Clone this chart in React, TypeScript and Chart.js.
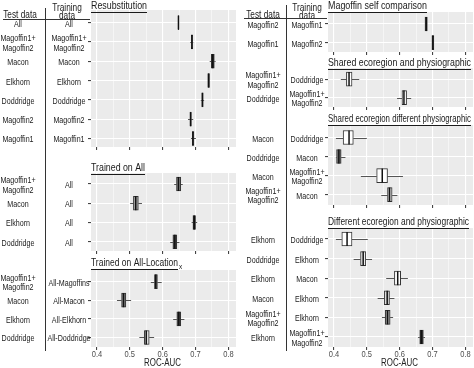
import React, { useEffect, useRef } from 'react';
import { Chart, registerables } from 'chart.js';
Chart.register(...registerables);

const FONT = "'Liberation Sans', Arial, sans-serif";
const SX = 0.79; // horizontal condensing of text to mimic the narrow humanist font

const xTicks = [0.4, 0.45, 0.5, 0.55, 0.6, 0.65, 0.7, 0.75, 0.8];
const axisTitle = 'ROC-AUC';

// Resubstitution
const resubTest = ['All', 'Magoffin1+\nMagoffin2', 'Macon', 'Elkhorn', 'Doddridge', 'Magoffin2', 'Magoffin1'];
const resubTrain = ['All', 'Magoffin1+\nMagoffin2', 'Macon', 'Elkhorn', 'Doddridge', 'Magoffin2', 'Magoffin1'];
const resubMin = [0.647, 0.684, 0.743, 0.737, 0.716, 0.677, 0.686];
const resubQ1 = [0.6475, 0.687, 0.748, 0.737, 0.719, 0.683, 0.690];
const resubMed = [0.648, 0.689, 0.752, 0.740, 0.721, 0.685, 0.692];
const resubQ3 = [0.6485, 0.691, 0.757, 0.742, 0.723, 0.687, 0.695];
const resubMax = [0.649, 0.693, 0.761, 0.742, 0.726, 0.693, 0.701];
const resubFill = ['#333333', '#444444', '#333333', '#555555', '#555555', '#333333', '#222222'];

// Trained on All
const allTest = ['Magoffin1+\nMagoffin2', 'Macon', 'Elkhorn', 'Doddridge'];
const allTrain = ['All', 'All', 'All', 'All'];
const allMin = [0.635, 0.501, 0.688, 0.623];
const allQ1 = [0.642, 0.511, 0.692, 0.631];
const allMed = [0.648, 0.518, 0.696, 0.637];
const allQ3 = [0.655, 0.526, 0.700, 0.643];
const allMax = [0.661, 0.537, 0.705, 0.651];
const allFill = ['#888888', '#a5a5a5', '#333333', '#555555'];

// Trained on All-Location
const locTest = ['Magoffin1+\nMagoffin2', 'Macon', 'Elkhorn', 'Doddridge'];
const locTrain = ['All-Magoffins', 'All-Macon', 'All-Elkhorn', 'All-Doddridge'];
const locMin = [0.564, 0.461, 0.632, 0.529];
const locQ1 = [0.575, 0.475, 0.643, 0.544];
const locMed = [0.579, 0.481, 0.649, 0.550];
const locQ3 = [0.584, 0.488, 0.655, 0.559];
const locMax = [0.597, 0.504, 0.666, 0.574];
const locFill = ['#777777', '#888888', '#555555', '#dddddd'];

// Magoffin self comparison
const selfTest = ['Magoffin2', 'Magoffin1'];
const selfTrain = ['Magoffin1', 'Magoffin2'];
const selfMin = [0.677, 0.698];
const selfQ1 = [0.677, 0.698];
const selfMed = [0.681, 0.701];
const selfQ3 = [0.684, 0.704];
const selfMax = [0.684, 0.704];
const selfFill = ['#444444', '#222222'];

// Shared ecoregion and physiographic
const sepTest = ['Magoffin1+\nMagoffin2', 'Doddridge'];
const sepTrain = ['Doddridge', 'Magoffin1+\nMagoffin2'];
const sepMin = [0.421, 0.592];
const sepQ1 = [0.438, 0.607];
const sepMed = [0.446, 0.613];
const sepQ3 = [0.455, 0.621];
const sepMax = [0.477, 0.635];
const sepFill = ['#ffffff', '#ffffff'];

// Shared ecoregion different physiographic
const sdpTest = ['Macon', 'Doddridge', 'Macon', 'Magoffin1+\nMagoffin2'];
const sdpTrain = ['Doddridge', 'Macon', 'Magoffin1+\nMagoffin2', 'Macon'];
const sdpMin = [0.406, 0.406, 0.482, 0.544];
const sdpQ1 = [0.428, 0.408, 0.530, 0.563];
const sdpMed = [0.446, 0.415, 0.547, 0.569];
const sdpQ3 = [0.459, 0.422, 0.563, 0.577];
const sdpMax = [0.500, 0.435, 0.610, 0.593];
const sdpFill = ['#ffffff', '#777777', '#ffffff', '#cccccc'];

// Different ecoregion and physiographic
const depTest = ['Elkhorn', 'Doddridge', 'Elkhorn', 'Macon', 'Magoffin1+\nMagoffin2', 'Elkhorn'];
const depTrain = ['Doddridge', 'Elkhorn', 'Macon', 'Elkhorn', 'Elkhorn', 'Magoffin1+\nMagoffin2'];
const depMin = [0.406, 0.460, 0.559, 0.533, 0.546, 0.656];
const depQ1 = [0.424, 0.481, 0.584, 0.553, 0.556, 0.661];
const depMed = [0.440, 0.489, 0.594, 0.562, 0.563, 0.666];
const depQ3 = [0.455, 0.497, 0.603, 0.569, 0.571, 0.672];
const depMax = [0.503, 0.516, 0.625, 0.584, 0.580, 0.677];
const depFill = ['#ffffff', '#eeeeee', '#ffffff', '#dddddd', '#999999', '#333333'];

type Panel = {
  title: string; sub?: string; titleW: number;
  test: string[]; train: string[];
  lo: number[]; q1: number[]; med: number[]; q3: number[]; hi: number[]; fill: string[];
  x: number; y: number; w: number; h: number;
  areaTop: number; areaBottom: number; yMin: number; yMax: number;
  bottomAxis: boolean; titleY: number; testX: number; trainX: number;
};

const panels: Panel[] = [
  { title: 'Resubstitution', titleW: 56, test: resubTest, train: resubTrain, lo: resubMin, q1: resubQ1, med: resubMed, q3: resubQ3, hi: resubMax, fill: resubFill,
    x: 0, y: 0, w: 237, h: 152, areaTop: 10, areaBottom: 147, yMin: -0.65, yMax: 6.44, bottomAxis: false, titleY: 6, testX: 18, trainX: 69 },
  { title: 'Trained on All', titleW: 54, test: allTest, train: allTrain, lo: allMin, q1: allQ1, med: allMed, q3: allQ3, hi: allMax, fill: allFill,
    x: 0, y: 155, w: 237, h: 100, areaTop: 173, areaBottom: 251, yMin: -0.57, yMax: 3.48, bottomAxis: false, titleY: 168, testX: 18, trainX: 69 },
  { title: 'Trained on All-Location', titleW: 87, sub: 'x', test: locTest, train: locTrain, lo: locMin, q1: locQ1, med: locMed, q3: locQ3, hi: locMax, fill: locFill,
    x: 0, y: 255, w: 237, h: 113, areaTop: 270, areaBottom: 347, yMin: -0.62, yMax: 3.51, bottomAxis: true, titleY: 263, testX: 18, trainX: 69 },
  { title: 'Magoffin self comparison', titleW: 99, test: selfTest, train: selfTrain, lo: selfMin, q1: selfQ1, med: selfMed, q3: selfQ3, hi: selfMax, fill: selfFill,
    x: 237, y: 0, w: 237, h: 56, areaTop: 12, areaBottom: 52, yMin: -0.65, yMax: 1.51, bottomAxis: false, titleY: 6, testX: 26, trainX: 70 },
  { title: 'Shared ecoregion and physiographic', titleW: 143, test: sepTest, train: sepTrain, lo: sepMin, q1: sepQ1, med: sepMed, q3: sepQ3, hi: sepMax, fill: sepFill,
    x: 237, y: 56, w: 237, h: 56, areaTop: 68, areaBottom: 107, yMin: -0.6, yMax: 1.51, bottomAxis: false, titleY: 63, testX: 26, trainX: 70 },
  { title: 'Shared ecoregion different physiographic', titleW: 143, test: sdpTest, train: sdpTrain, lo: sdpMin, q1: sdpQ1, med: sdpMed, q3: sdpQ3, hi: sdpMax, fill: sdpFill,
    x: 237, y: 112, w: 237, h: 97, areaTop: 125, areaBottom: 205, yMin: -0.66, yMax: 3.55, bottomAxis: false, titleY: 119, testX: 26, trainX: 70 },
  { title: 'Different ecoregion and physiographic', titleW: 141, test: depTest, train: depTrain, lo: depMin, q1: depQ1, med: depMed, q3: depQ3, hi: depMax, fill: depFill,
    x: 237, y: 209, w: 237, h: 159, areaTop: 228, areaBottom: 347, yMin: -0.56, yMax: 5.51, bottomAxis: true, titleY: 222, testX: 26, trainX: 70 },
];

const isMajor = (v: number) => Math.abs(v * 10 - Math.round(v * 10)) < 1e-6;
const BAR_H = 14;
const LABEL_DY = 1.5;

function sText(ctx: CanvasRenderingContext2D, s: string, x: number, y: number, align: CanvasTextAlign, sx = SX) {
  ctx.save();
  ctx.translate(x, y);
  ctx.scale(sx, 1);
  ctx.textAlign = align;
  ctx.textBaseline = 'middle';
  ctx.fillText(s, 0, 0);
  ctx.restore();
}

function PanelChart({ p }: { p: Panel }) {
  const ref = useRef<HTMLCanvasElement>(null);
  useEffect(() => {
    const canvas = ref.current!;
    const n = p.test.length;
    const idx = p.test.map((_, i) => i);

    const bgPlugin = {
      id: 'bg',
      beforeDraw(chart: any) {
        const { ctx, chartArea: a } = chart;
        ctx.save();
        ctx.fillStyle = '#ebebeb';
        ctx.fillRect(a.left, a.top, a.right - a.left, a.bottom - a.top);
        ctx.restore();
      },
    };

    const boxPlugin = {
      id: 'boxes',
      beforeDatasetsDraw(chart: any) {
        const { ctx } = chart;
        const xs = chart.scales.x, ys = chart.scales.y;
        ctx.save();
        ctx.strokeStyle = '#555555';
        ctx.lineWidth = 1;
        for (let i = 0; i < n; i++) {
          const yy = Math.round(ys.getPixelForValue(i)) + 0.5;
          ctx.beginPath();
          ctx.moveTo(xs.getPixelForValue(p.lo[i]), yy);
          ctx.lineTo(xs.getPixelForValue(p.q1[i]), yy);
          ctx.moveTo(xs.getPixelForValue(p.q3[i]), yy);
          ctx.lineTo(xs.getPixelForValue(p.hi[i]), yy);
          ctx.stroke();
        }
        ctx.restore();
      },
      afterDatasetsDraw(chart: any) {
        const { ctx } = chart;
        const xs = chart.scales.x, ys = chart.scales.y;
        ctx.save();
        ctx.strokeStyle = '#111111';
        ctx.lineWidth = 1.5;
        for (let i = 0; i < n; i++) {
          const yy = ys.getPixelForValue(i);
          const xx = xs.getPixelForValue(p.med[i]);
          ctx.beginPath();
          ctx.moveTo(xx, yy - BAR_H / 2);
          ctx.lineTo(xx, yy + BAR_H / 2);
          ctx.stroke();
        }
        ctx.restore();
      },
    };

    const labelPlugin = {
      id: 'labels',
      afterDraw(chart: any) {
        const { ctx, chartArea: a } = chart;
        const xs = chart.scales.x, ys = chart.scales.y;
        ctx.save();
        // title
        ctx.font = `11px ${FONT}`;
        ctx.fillStyle = '#1a1a1a';
        const ty = p.titleY - p.y;
        const tsx = p.titleW / ctx.measureText(p.title).width;
        sText(ctx, p.title, a.left, ty, 'left', tsx);
        const tw = p.titleW;
        ctx.strokeStyle = '#1a1a1a';
        ctx.lineWidth = 1;
        ctx.beginPath();
        ctx.moveTo(a.left, Math.round(ty + 6) + 0.5);
        ctx.lineTo(a.left + tw, Math.round(ty + 6) + 0.5);
        ctx.stroke();
        if (p.sub) {
          ctx.font = `8px ${FONT}`;
          sText(ctx, p.sub, a.left + tw + 1, ty + 4, 'left');
        }
        // row labels
        ctx.font = `9px ${FONT}`;
        ctx.fillStyle = '#222222';
        const drawLabel = (txt: string, x: number, y: number) => {
          const lines = txt.split('\n');
          const lh = 9.5;
          lines.forEach((ln, k) => {
            sText(ctx, ln, x, y + LABEL_DY + (k - (lines.length - 1) / 2) * lh, 'center');
          });
        };
        for (let i = 0; i < n; i++) {
          const yy = ys.getPixelForValue(i);
          drawLabel(p.test[i], p.testX, yy);
          drawLabel(p.train[i], p.trainX, yy);
        }
        if (p.bottomAxis) {
          ctx.font = `9.5px ${FONT}`;
          ctx.fillStyle = '#4d4d4d';
          xTicks.filter(isMajor).forEach((v) => {
            sText(ctx, v.toFixed(1), xs.getPixelForValue(v), a.bottom + 7, 'center');
          });
          ctx.font = `10px ${FONT}`;
          ctx.fillStyle = '#222222';
          sText(ctx, axisTitle, (a.left + a.right) / 2 - 1, p.h - 4.5, 'center');
        }
        ctx.restore();
      },
    };

    const chart = new Chart(canvas, {
      type: 'bar',
      data: {
        datasets: [{
          data: p.q1.map((v, i) => ({ x: [v, p.q3[i]], y: i })) as any,
          backgroundColor: p.fill,
          borderColor: '#333333',
          borderWidth: 1,
          borderSkipped: false,
          barThickness: BAR_H,
        }],
      },
      options: {
        indexAxis: 'y',
        animation: false,
        responsive: false,
        maintainAspectRatio: false,
        layout: { padding: { left: 87, right: 1, top: p.areaTop - p.y, bottom: 0 } },
        plugins: { legend: { display: false }, tooltip: { enabled: false }, title: { display: false } },
        scales: {
          x: {
            type: 'linear',
            min: 0.382,
            max: 0.823,
            offset: false,
            afterBuildTicks: (s: any) => { s.ticks = xTicks.map((v) => ({ value: v })); },
            afterFit: (s: any) => { s.height = p.y + p.h - p.areaBottom; },
            border: { display: false },
            grid: {
              offset: false,
              color: '#ffffff',
              lineWidth: (c: any) => (c.tick && isMajor(c.tick.value) ? 1.1 : 0.5),
              tickColor: (c: any) => (c.tick && isMajor(c.tick.value) ? '#444444' : 'rgba(0,0,0,0)'),
              tickLength: 3,
              drawTicks: true,
            },
            ticks: { display: false },
          },
          y: {
            type: 'linear',
            reverse: true,
            offset: false,
            min: p.yMin,
            max: p.yMax,
            afterBuildTicks: (s: any) => { s.ticks = idx.map((v) => ({ value: v })); },
            afterFit: (s: any) => { s.width = 4; },
            border: { display: false },
            grid: { offset: false, color: '#ffffff', lineWidth: 1.1, tickColor: '#444444', tickLength: 3, drawTicks: true },
            ticks: { display: false },
          },
        },
      } as any,
      plugins: [bgPlugin, boxPlugin, labelPlugin],
    });
    return () => chart.destroy();
  }, []);
  return (
    <canvas
      ref={ref}
      width={p.w}
      height={p.h}
      style={{ position: 'absolute', left: p.x, top: p.y, width: p.w, height: p.h }}
    />
  );
}

const txt = (s: string, x: number, y: number, size = 10.5) => (
  <div style={{ position: 'absolute', left: x, top: y, transform: `translate(-50%, -50%) scaleX(${SX})`, whiteSpace: 'nowrap', fontFamily: FONT, fontSize: size, lineHeight: 1, color: '#1a1a1a' }}>{s}</div>
);

export default function App() {
  return (
    <div style={{ position: 'absolute', left: 0, top: 0, width: 474, height: 368, background: '#ffffff', overflow: 'hidden' }}>
      {panels.map((p, i) => <PanelChart key={i} p={p} />)}
      {txt('Test data', 20, 14)}
      {txt('Training', 67, 7)}
      {txt('data', 67, 15)}
      <div style={{ position: 'absolute', left: 3, top: 19, width: 87, height: 0, borderTop: '1px solid #333' }} />
      <div style={{ position: 'absolute', left: 45, top: 8, width: 0, height: 343, borderLeft: '1px solid #333' }} />
      {txt('Test data', 263, 13.5)}
      {txt('Training', 307, 6.5)}
      {txt('data', 307, 14.5)}
      <div style={{ position: 'absolute', left: 244, top: 18, width: 83, height: 0, borderTop: '1px solid #333' }} />
      <div style={{ position: 'absolute', left: 286, top: 5, width: 0, height: 346, borderLeft: '1px solid #333' }} />
    </div>
  );
}
